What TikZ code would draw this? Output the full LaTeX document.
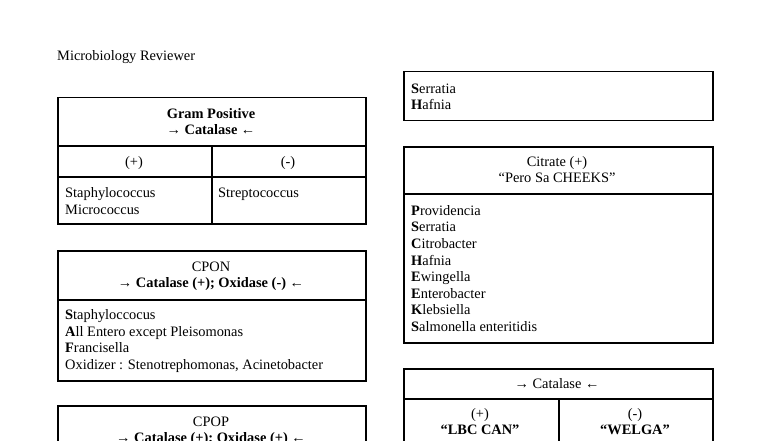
\documentclass[tikz,border=0pt]{standalone}
\usepackage{fontspec}
\setmainfont{Liberation Serif}
\begin{document}
\begin{tikzpicture}[x=1pt,y=-1pt,
  cell/.style={draw, line width=1.5pt, anchor=north west, inner sep=0pt},
  txt/.style={font=\fontsize{14.4}{16.7}\selectfont, inner sep=0pt, anchor=mid, yshift=-2.5pt},
  ltxt/.style={txt, anchor=mid west},
  btxt/.style={txt, font=\fontsize{14.4}{16.7}\selectfont\bfseries}]
\useasboundingbox (0,0) rectangle (784,441);
\clip (0,0) rectangle (784,441);

\node[ltxt] (title) at (57,56) {Microbiology Reviewer};

% Gram Positive table
\node[cell, minimum width=308pt, minimum height=48pt] (gh) at (57,97) {};
\node[cell, minimum width=154pt, minimum height=31pt] (gp) at (57,145) {};
\node[cell, minimum width=154pt, minimum height=31pt] (gn) at (211,145) {};
\node[cell, minimum width=154pt, minimum height=47pt] (gpb) at (57,176) {};
\node[cell, minimum width=154pt, minimum height=47pt] (gnb) at (211,176) {};
\node[btxt] (gt1) at (211,114) {Gram Positive};
\node[btxt] (gt2) at (211,130) {→ Catalase ←};
\node[txt] (gpt) at (134,162) {(+)};
\node[txt] (gnt) at (288,162) {(-)};
\node[ltxt] (gb1) at (65,193) {Staphylococcus};
\node[ltxt] (gb2) at (65,210) {Micrococcus};
\node[ltxt] (gb3) at (218,193) {Streptococcus};

% CPON
\node[cell, minimum width=308pt, minimum height=49pt] (ch) at (57,250) {};
\node[cell, minimum width=308pt, minimum height=81pt] (cb) at (57,299) {};
\node[txt] (ct1) at (211,267) {CPON};
\node[btxt] (ct2) at (211,283) {→ Catalase (+); Oxidase (-) ←};
\node[ltxt] (cb1) at (65,315) {\textbf{S}taphyloccocus};
\node[ltxt] (cb2) at (65,331.5) {\textbf{A}ll Entero except Pleisomonas};
\node[ltxt] (cb3) at (65,348) {\textbf{F}rancisella};
\node[ltxt] (cb4) at (65,364.5) {Oxidizer : Stenotrephomonas, Acinetobacter};

% CPOP
\node[cell, minimum width=308pt, minimum height=60pt] (ph) at (57,405) {};
\node[txt] (pt1) at (211,422) {CPOP};
\node[btxt] (pt2) at (211,438) {→ Catalase (+); Oxidase (+) ←};

% Right top box
\node[cell, minimum width=309pt, minimum height=49pt] (sh) at (403,71) {};
\node[ltxt] (s1) at (411,89) {\textbf{S}erratia};
\node[ltxt] (s2) at (411,105) {\textbf{H}afnia};

% Citrate
\node[cell, minimum width=309pt, minimum height=47pt] (th) at (403,146) {};
\node[cell, minimum width=309pt, minimum height=149pt] (tb) at (403,193) {};
\node[txt] (tt1) at (557,162) {Citrate (+)};
\node[txt] (tt2) at (557,178) {“Pero Sa CHEEKS”};
\node[ltxt] (t1) at (411,210.5) {\textbf{P}rovidencia};
\node[ltxt] (t2) at (411,227.1) {\textbf{S}erratia};
\node[ltxt] (t3) at (411,243.7) {\textbf{C}itrobacter};
\node[ltxt] (t4) at (411,260.3) {\textbf{H}afnia};
\node[ltxt] (t5) at (411,276.9) {\textbf{E}wingella};
\node[ltxt] (t6) at (411,293.5) {\textbf{E}nterobacter};
\node[ltxt] (t7) at (411,310.1) {\textbf{K}lebsiella};
\node[ltxt] (t8) at (411,326.7) {\textbf{S}almonella enteritidis};

% Catalase (right bottom)
\node[cell, minimum width=309pt, minimum height=30pt] (kh) at (403,368) {};
\node[cell, minimum width=155pt, minimum height=60pt] (kp) at (403,398) {};
\node[cell, minimum width=154pt, minimum height=60pt] (kn) at (558,398) {};
\node[txt] (kt) at (557,384) {→ Catalase ←};
\node[txt] (kp1) at (480,414) {(+)};
\node[btxt] (kp2) at (480,430) {“LBC CAN”};
\node[txt] (kn1) at (635,414) {(-)};
\node[btxt] (kn2) at (635,430) {“WELGA”};
\end{tikzpicture}
\end{document}
